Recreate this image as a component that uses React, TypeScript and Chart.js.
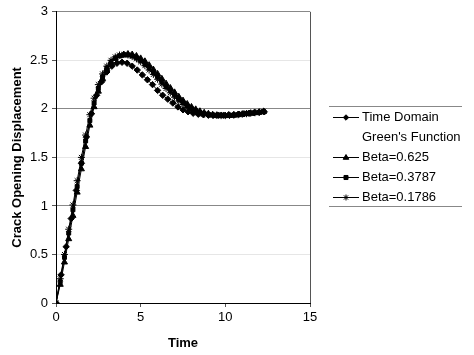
import React, { useEffect, useRef } from "react";
import { Chart, registerables } from "chart.js";

Chart.register(...registerables);

const timeTD = [0, 0.3, 0.6, 0.9, 1.2, 1.5, 1.8, 2.1, 2.4, 2.7, 3.0, 3.3, 3.6, 3.9, 4.2, 4.5, 4.8, 5.1, 5.4, 5.7, 6.0, 6.3, 6.6, 6.9, 7.2, 7.5, 7.8, 8.1, 8.4, 8.7, 9.0, 9.3, 9.6, 9.9, 10.2, 10.5, 10.8, 11.1, 11.4, 11.7, 12.0, 12.3];
const timeDomain = [0, 0.29, 0.58, 0.87, 1.16, 1.44, 1.71, 1.95, 2.14, 2.28, 2.38, 2.44, 2.47, 2.48, 2.47, 2.44, 2.4, 2.35, 2.3, 2.25, 2.19, 2.14, 2.1, 2.06, 2.02, 1.99, 1.97, 1.955, 1.945, 1.94, 1.935, 1.935, 1.935, 1.935, 1.94, 1.94, 1.945, 1.95, 1.955, 1.96, 1.965, 1.97];

const timeBeta = [0, 0.25, 0.5, 0.75, 1.0, 1.25, 1.5, 1.75, 2.0, 2.25, 2.5, 2.75, 3.0, 3.25, 3.5, 3.75, 4.0, 4.25, 4.5, 4.75, 5.0, 5.25, 5.5, 5.75, 6.0, 6.25, 6.5, 6.75, 7.0, 7.25, 7.5, 7.75, 8.0, 8.25, 8.5, 8.75, 9.0, 9.25, 9.5, 9.75, 10.0, 10.25, 10.5, 10.75, 11.0, 11.25, 11.5, 11.75, 12.0, 12.25];
const beta0625 = [0, 0.19, 0.42, 0.66, 0.9, 1.14, 1.38, 1.61, 1.83, 2.02, 2.18, 2.31, 2.41, 2.48, 2.52, 2.545, 2.56, 2.565, 2.56, 2.545, 2.52, 2.49, 2.45, 2.405, 2.36, 2.31, 2.26, 2.215, 2.17, 2.125, 2.085, 2.05, 2.02, 1.995, 1.975, 1.96, 1.95, 1.94, 1.935, 1.932, 1.93, 1.932, 1.935, 1.94, 1.945, 1.95, 1.955, 1.96, 1.965, 1.97];
const beta03787 = [0, 0.22, 0.47, 0.72, 0.96, 1.2, 1.44, 1.67, 1.88, 2.06, 2.21, 2.33, 2.42, 2.48, 2.52, 2.545, 2.555, 2.555, 2.545, 2.525, 2.495, 2.46, 2.42, 2.375, 2.33, 2.28, 2.235, 2.19, 2.145, 2.1, 2.065, 2.03, 2.0, 1.98, 1.96, 1.95, 1.94, 1.935, 1.93, 1.93, 1.93, 1.932, 1.935, 1.94, 1.945, 1.95, 1.955, 1.96, 1.965, 1.97];
const beta01786 = [0, 0.25, 0.5, 0.76, 1.01, 1.26, 1.5, 1.73, 1.94, 2.11, 2.25, 2.36, 2.44, 2.5, 2.535, 2.555, 2.56, 2.555, 2.54, 2.515, 2.485, 2.445, 2.4, 2.355, 2.305, 2.255, 2.21, 2.165, 2.12, 2.08, 2.045, 2.015, 1.99, 1.97, 1.955, 1.945, 1.94, 1.935, 1.932, 1.93, 1.93, 1.932, 1.935, 1.94, 1.945, 1.95, 1.955, 1.96, 1.965, 1.975];

const seriesLabels = [["Time Domain", "Green's Function"], ["Beta=0.625"], ["Beta=0.3787"], ["Beta=0.1786"]];
const seriesMarkers = ["rectRot", "triangle", "rect", "star"];
const xTicks = [0, 5, 10, 15];
const yTicks = [0, 0.5, 1, 1.5, 2, 2.5, 3];

const FONT = "'Liberation Sans', Arial, sans-serif";

const toPoints = (xs: number[], ys: number[]) => xs.map((x, i) => ({ x, y: ys[i] }));

function drawMarker(ctx: CanvasRenderingContext2D, style: string, r: number, x: number, y: number) {
  ctx.beginPath();
  if (style === "rectRot") {
    ctx.moveTo(x, y - r);
    ctx.lineTo(x + r, y);
    ctx.lineTo(x, y + r);
    ctx.lineTo(x - r, y);
    ctx.closePath();
    ctx.fill();
    ctx.stroke();
  } else if (style === "triangle") {
    ctx.moveTo(x, y - r);
    ctx.lineTo(x + r * 0.95, y + r * 0.6);
    ctx.lineTo(x - r * 0.95, y + r * 0.6);
    ctx.closePath();
    ctx.fill();
    ctx.stroke();
  } else if (style === "rect") {
    const s = r * 0.85;
    ctx.rect(x - s, y - s, 2 * s, 2 * s);
    ctx.fill();
    ctx.stroke();
  } else {
    ctx.moveTo(x - r, y);
    ctx.lineTo(x + r, y);
    ctx.moveTo(x, y - r);
    ctx.lineTo(x, y + r);
    const d = r * 0.707;
    ctx.moveTo(x - d, y - d);
    ctx.lineTo(x + d, y + d);
    ctx.moveTo(x - d, y + d);
    ctx.lineTo(x + d, y - d);
    ctx.stroke();
  }
}

const legendPlugin = {
  id: "customLegend",
  afterDraw(chart: any) {
    const ctx = chart.ctx;
    const left = 329;
    const right = 462;
    const top = 106;
    const bottom = 206;
    ctx.save();
    ctx.strokeStyle = "#888";
    ctx.lineWidth = 1;
    ctx.beginPath();
    ctx.moveTo(left, top + 0.5);
    ctx.lineTo(right, top + 0.5);
    ctx.moveTo(left, bottom + 0.5);
    ctx.lineTo(right, bottom + 0.5);
    ctx.stroke();
    ctx.font = `13px ${FONT}`;
    ctx.textBaseline = "middle";
    let y = 117;
    const rowH = 20;
    chart.data.datasets.forEach((ds: any, i: number) => {
      ctx.strokeStyle = "#000";
      ctx.fillStyle = "#000";
      ctx.lineWidth = 1;
      ctx.beginPath();
      ctx.moveTo(333, y + 0.5);
      ctx.lineTo(359, y + 0.5);
      ctx.stroke();
      drawMarker(ctx, ds.pointStyle, ds.pointRadius * 0.85, 346, y + 0.5);
      ctx.fillStyle = "#000";
      const lines = seriesLabels[i];
      lines.forEach((t: string, j: number) => {
        ctx.fillText(t, 362, y + j * rowH);
      });
      y += rowH * lines.length;
    });
    ctx.restore();
  },
};

export default function App() {
  const ref = useRef<HTMLCanvasElement>(null);
  useEffect(() => {
    if (!ref.current) return;
    const mk = (i: number, xs: number[], ys: number[], r: number) => ({
      label: seriesLabels[i].join(" "),
      data: toPoints(xs, ys),
      showLine: true,
      borderColor: "#000",
      backgroundColor: "#000",
      borderWidth: 1,
      pointStyle: seriesMarkers[i],
      pointRadius: r,
      pointBorderColor: "#000",
      pointBackgroundColor: "#000",
      pointBorderWidth: 1,
    });
    const chart = new Chart(ref.current, {
      type: "scatter",
      data: {
        datasets: [
          mk(0, timeTD, timeDomain, 3.2),
          mk(1, timeBeta, beta0625, 3.5),
          mk(2, timeBeta, beta03787, 2.8),
          mk(3, timeBeta, beta01786, 3.5),
        ],
      },
      options: {
        animation: false,
        responsive: false,
        devicePixelRatio: 1,
        layout: { padding: { left: 0, right: 164, top: 8, bottom: 0 } },
        plugins: { legend: { display: false }, tooltip: { enabled: false } },
        scales: {
          x: {
            type: "linear",
            min: 0,
            max: 15,
            afterBuildTicks: (axis: any) => {
              axis.ticks = xTicks.map((v) => ({ value: v }));
            },
            afterFit: (axis: any) => {
              axis.height = 52;
            },
            ticks: { color: "#000", font: { family: FONT, size: 13 }, padding: 3, callback: (v: any) => String(v) },
            grid: {
              color: (c: any) => (c.tick && c.tick.value === 15 ? "#555" : "rgba(0,0,0,0)"),
              tickColor: "#555",
              tickLength: 4,
              lineWidth: 1,
            },
            border: { color: "#000", width: 1 },
            title: { display: true, text: "Time", color: "#000", font: { family: FONT, size: 13, weight: "bold" }, padding: { top: 4, bottom: 4 } },
          },
          y: {
            type: "linear",
            min: 0,
            max: 3,
            afterBuildTicks: (axis: any) => {
              axis.ticks = yTicks.map((v) => ({ value: v }));
            },
            afterFit: (axis: any) => {
              axis.width = 56;
            },
            ticks: { color: "#000", font: { family: FONT, size: 13 }, padding: 4, callback: (v: any) => String(v) },
            grid: {
              color: (c: any) => (c.tick && Number.isInteger(c.tick.value) ? "#888" : "#e6e6e6"),
              tickColor: "#555",
              tickLength: 4,
              lineWidth: 1,
            },
            border: { color: "#000", width: 1 },
            title: { display: true, text: "Crack Opening Displacement", color: "#000", font: { family: FONT, size: 13, weight: "bold" }, padding: { top: 10, bottom: 0 } },
          },
        },
      },
      plugins: [legendPlugin],
    });
    return () => chart.destroy();
  }, []);
  return (
    <div style={{ position: "fixed", left: 0, top: 0, width: 474, height: 355, background: "#fff" }}>
      <canvas ref={ref} width={474} height={355} />
    </div>
  );
}
